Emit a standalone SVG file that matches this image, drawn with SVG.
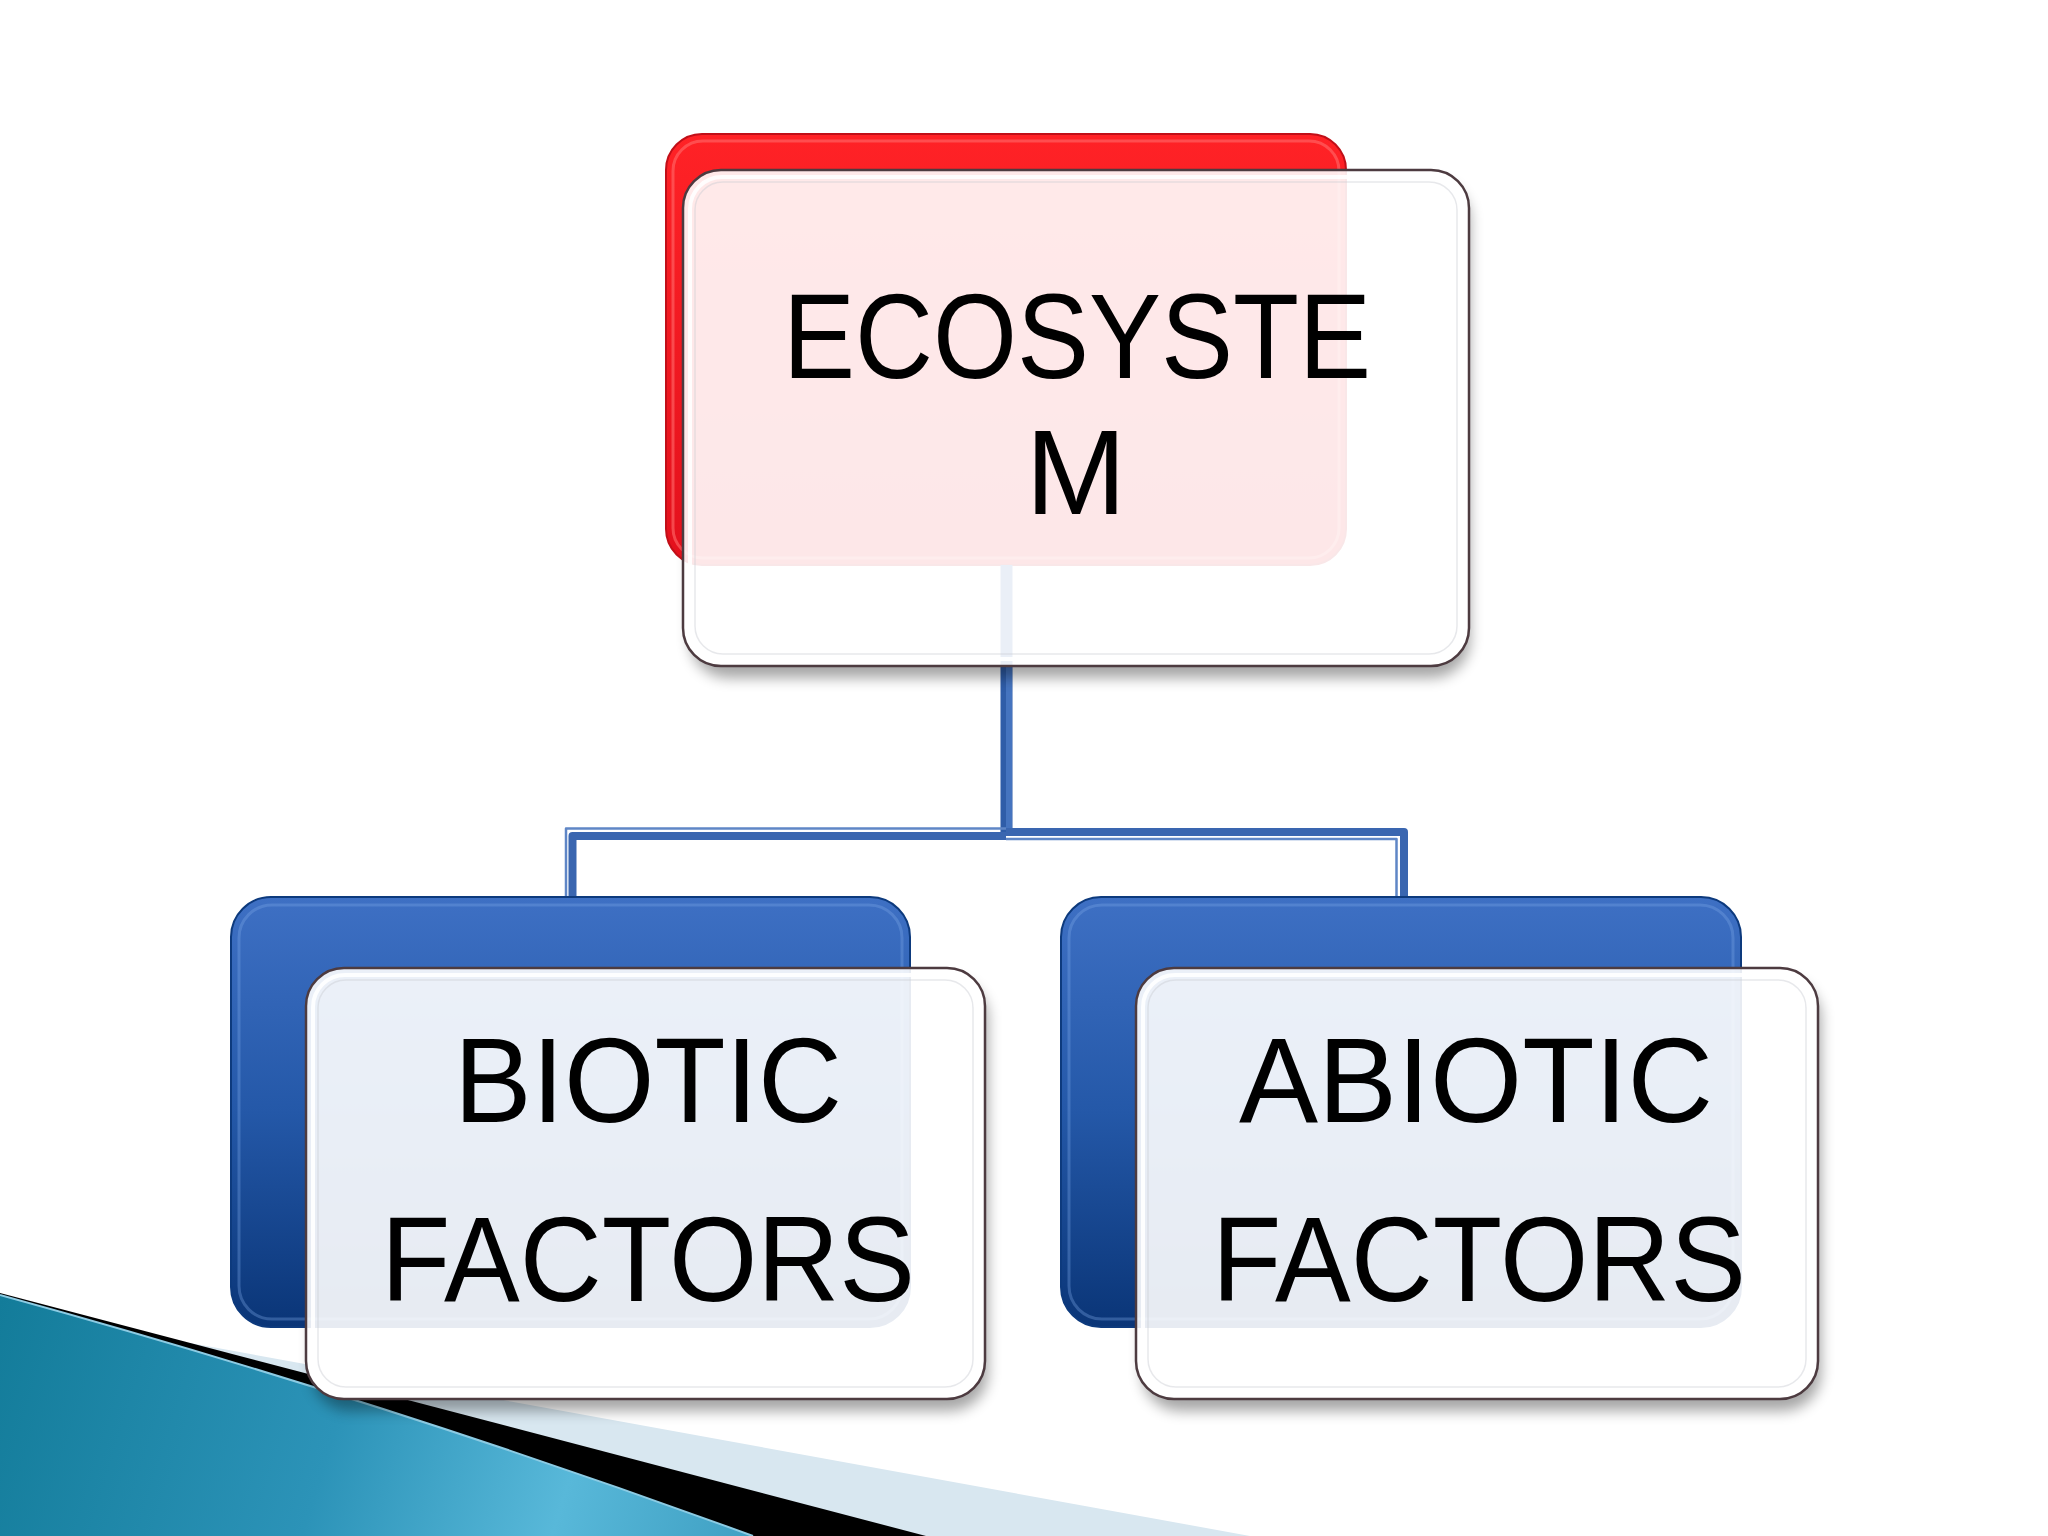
<svg xmlns="http://www.w3.org/2000/svg" width="2048" height="1536" viewBox="0 0 2048 1536">
<defs>
<style>
.label{font-family:"Liberation Sans","Open Sans","DejaVu Sans",sans-serif;font-size:121px;fill:#000;text-anchor:middle}
.front{fill:#ffffff;fill-opacity:0.9;stroke:#4d3b40;stroke-width:2.5}
.under{fill:#ffffff}
.bevel{fill:none;stroke:#ffffff;stroke-width:4;opacity:0.9}
.bevel2{fill:none;stroke:#c9ccd2;stroke-width:1.5;opacity:0.45}
.shadow{fill:#000;opacity:0.35;filter:url(#blur)}
.thick{fill:none;stroke:#3a66b0;stroke-width:8;stroke-linejoin:round}
.thin{fill:none;stroke:#5f86c6;stroke-width:2.5;stroke-linejoin:round}
</style>
<linearGradient id="redGrad" x1="0" y1="0" x2="0" y2="1">
<stop offset="0" stop-color="#ff2226"/>
<stop offset="1" stop-color="#e3101c"/>
</linearGradient>
<linearGradient id="blueGrad" x1="0" y1="0" x2="0" y2="1">
<stop offset="0" stop-color="#3e70c4"/>
<stop offset="0.5" stop-color="#2458a8"/>
<stop offset="1" stop-color="#0a3577"/>
</linearGradient>
<linearGradient id="tealGrad" gradientUnits="userSpaceOnUse" x1="0" y1="1300" x2="760" y2="1536">
<stop offset="0" stop-color="#137c9a"/>
<stop offset="0.45" stop-color="#2c93b8"/>
<stop offset="0.75" stop-color="#58b8d9"/>
<stop offset="1" stop-color="#3e9fc2"/>
</linearGradient>
<filter id="blur" x="-10%" y="-10%" width="120%" height="130%">
<feGaussianBlur stdDeviation="7"/>
</filter>
</defs>
<rect x="0" y="0" width="2048" height="1536" fill="#ffffff"/>

<g id="decoration">
<path d="M190,1343 L1250,1536 L0,1536 Z" fill="#d8e7f0"/>
<path d="M0,1293 L926,1536 L0,1536 Z" fill="#000000"/>
<path d="M0,1295 C200,1350 450,1425 753,1536 L0,1536 Z" fill="url(#tealGrad)"/>
<path d="M0,1295 C200,1350 450,1425 753,1536" fill="none" stroke="#8ccbe3" stroke-width="2"/>
</g>

<g id="connectors">
<path d="M1006.5,560 V833" fill="none" stroke="#2f5da8" stroke-width="12"/>
<path d="M1009,560 V833" fill="none" stroke="#4574bf" stroke-width="6"/>
<path class="thick" d="M1006,836 H572.5 V898"/>
<path class="thin" d="M1006,828.5 H566 V898"/>
<path class="thick" d="M1006,832 H1404 V898"/>
<path class="thin" d="M1006,839 H1396.5 V898"/>
</g>

<g id="node-ecosystem">
<rect class="shadow" x="690" y="182" width="780" height="496" rx="38"/>
<rect class="under" x="683" y="170" width="786" height="496" rx="38"/>
<rect x="666" y="134" width="680" height="431" rx="36" fill="url(#redGrad)" stroke="#c10f18" stroke-width="2"/>
<rect x="673" y="141" width="666" height="417" rx="30" fill="none" stroke="#ff6b6b" stroke-width="3" opacity="0.6"/>
<path d="M1006.5,565 V666" fill="none" stroke="#2f5da8" stroke-width="12"/>
<rect class="front" x="683" y="170" width="786" height="496" rx="38"/>
<rect class="bevel" x="690" y="177" width="772" height="482" rx="32"/>
<rect class="bevel2" x="695" y="182" width="762" height="472" rx="28"/>
<text class="label"><tspan x="1077" y="378" textLength="588" lengthAdjust="spacingAndGlyphs">ECOSYSTE</tspan><tspan x="1076" y="514">M</tspan></text>
</g>

<g id="node-biotic">
<rect class="shadow" x="312" y="980" width="676" height="431" rx="38"/>
<rect class="under" x="306" y="968" width="679" height="431" rx="38"/>
<rect x="231" y="897" width="679" height="430" rx="40" fill="url(#blueGrad)" stroke="#0d3a7d" stroke-width="2"/>
<rect x="239" y="905" width="663" height="414" rx="33" fill="none" stroke="#7aa6e6" stroke-width="3" opacity="0.35"/>
<rect class="front" x="306" y="968" width="679" height="431" rx="38"/>
<rect class="bevel" x="313" y="975" width="665" height="417" rx="32"/>
<rect class="bevel2" x="318" y="980" width="655" height="407" rx="28"/>
<text class="label"><tspan x="648" y="1122" textLength="388" lengthAdjust="spacingAndGlyphs">BIOTIC</tspan><tspan x="648" y="1301" textLength="534" lengthAdjust="spacingAndGlyphs">FACTORS</tspan></text>
</g>

<g id="node-abiotic">
<rect class="shadow" x="1142" y="980" width="679" height="431" rx="38"/>
<rect class="under" x="1136" y="968" width="682" height="431" rx="38"/>
<rect x="1061" y="897" width="680" height="430" rx="40" fill="url(#blueGrad)" stroke="#0d3a7d" stroke-width="2"/>
<rect x="1069" y="905" width="664" height="414" rx="33" fill="none" stroke="#7aa6e6" stroke-width="3" opacity="0.35"/>
<rect class="front" x="1136" y="968" width="682" height="431" rx="38"/>
<rect class="bevel" x="1143" y="975" width="668" height="417" rx="32"/>
<rect class="bevel2" x="1148" y="980" width="658" height="407" rx="28"/>
<text class="label"><tspan x="1476" y="1122" textLength="474" lengthAdjust="spacingAndGlyphs">ABIOTIC</tspan><tspan x="1479" y="1301" textLength="534" lengthAdjust="spacingAndGlyphs">FACTORS</tspan></text>
</g>
</svg>
